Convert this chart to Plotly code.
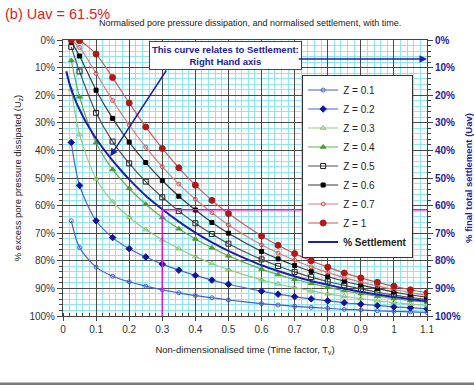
import plotly.graph_objects as go

# ---------------- data ----------------
tv = [0.025, 0.05, 0.1, 0.15, 0.2, 0.25, 0.3, 0.35, 0.4, 0.45, 0.5,
      0.6, 0.65, 0.7, 0.75, 0.8, 0.85, 0.9, 0.95, 1.0, 1.05, 1.1]

z_labels = ["Z = 0.1", "Z = 0.2", "Z = 0.3", "Z = 0.4", "Z = 0.5", "Z = 0.6", "Z = 0.7", "Z = 1"]

u_z01 = [65.5, 75.2, 82.3, 85.6, 87.6, 89.2, 90.5, 91.6, 92.6, 93.4, 94.2,
         95.5, 96.0, 96.5, 96.9, 97.2, 97.6, 97.8, 98.1, 98.3, 98.5, 98.7]
u_z02 = [37.1, 52.7, 65.5, 71.6, 75.6, 78.6, 81.2, 83.4, 85.3, 87.0, 88.5,
         91.0, 92.1, 93.0, 93.8, 94.5, 95.2, 95.7, 96.2, 96.7, 97.0, 97.4]
u_z03 = [18.0, 34.3, 50.3, 58.6, 64.2, 68.7, 72.4, 75.6, 78.5, 81.0, 83.2,
         86.9, 88.4, 89.7, 90.9, 92.0, 92.9, 93.7, 94.5, 95.1, 95.7, 96.2]
u_z04 = [7.4, 20.6, 37.2, 46.9, 53.8, 59.5, 64.3, 68.4, 72.1, 75.3, 78.2,
         83.0, 85.0, 86.7, 88.2, 89.6, 90.8, 91.9, 92.8, 93.7, 94.4, 95.0]
u_z05 = [2.5, 11.4, 26.4, 36.8, 44.7, 51.3, 57.0, 62.0, 66.4, 70.3, 73.8,
         79.5, 81.9, 84.0, 85.9, 87.5, 88.9, 90.2, 91.4, 92.4, 93.3, 94.0]
u_z06 = [0.7, 5.8, 18.2, 28.4, 37.0, 44.4, 50.9, 56.6, 61.6, 66.1, 70.0,
         76.6, 79.3, 81.7, 83.8, 85.7, 87.4, 88.8, 90.1, 91.3, 92.3, 93.2]
u_z07 = [0.2, 2.7, 12.1, 21.9, 30.8, 38.8, 45.9, 52.2, 57.7, 62.6, 67.0,
         74.2, 77.2, 79.8, 82.2, 84.2, 86.1, 87.7, 89.1, 90.4, 91.5, 92.5]
u_z10 = [0.0, 0.3, 5.1, 13.6, 22.8, 31.5, 39.3, 46.3, 52.6, 58.1, 62.9,
         71.0, 74.4, 77.4, 80.0, 82.3, 84.4, 86.2, 87.8, 89.2, 90.5, 91.6]

tv_settle = [0.01, 0.02, 0.03, 0.04, 0.05, 0.06, 0.07, 0.08, 0.1, 0.125, 0.15, 0.175,
             0.2, 0.25, 0.3, 0.35, 0.4, 0.45, 0.5, 0.55, 0.6, 0.65, 0.7, 0.75,
             0.8, 0.85, 0.9, 0.95, 1.0, 1.05, 1.1]
u_settle = [11.3, 16.0, 19.5, 22.6, 25.2, 27.6, 29.9, 31.9, 35.7, 39.9, 43.7, 47.2,
            50.5, 56.4, 61.3, 65.8, 69.8, 73.3, 76.4, 79.1, 81.6, 83.7, 85.6, 87.3,
            88.7, 90.0, 91.2, 92.2, 93.1, 93.9, 94.6]

tv_marked = 0.3
uav_marked = 61.5

x_ticks = [0, 0.1, 0.2, 0.3, 0.4, 0.5, 0.6, 0.7, 0.8, 0.9, 1, 1.1]
x_tick_text = ["0", "0.1", "0.2", "0.3", "0.4", "0.5", "0.6", "0.7", "0.8", "0.9", "1", "1.1"]

# ---------------- styles ----------------
series = [
    (u_z01, "#3f5fd0", "#3f5fd0", "circle-open", 4),
    (u_z02, "#4866d4", "#14149a", "diamond", 5),
    (u_z03, "#98cc80", "#80c068", "triangle-up-open", 5),
    (u_z04, "#6aaa50", "#4c9a30", "triangle-up", 5),
    (u_z05, "#505050", "#202020", "square-open", 5),
    (u_z06, "#3a3a3a", "#000000", "square", 4),
    (u_z07, "#dd7a7a", "#d05050", "circle-open", 4),
    (u_z10, "#c85a5a", "#b01818", "circle", 6),
]

FONT = "Liberation Sans, Arial, sans-serif"
BLUE = "#2222a0"

fig = go.Figure()
for (vals, lc, mc, sym, ms), name in zip(series, z_labels):
    fig.add_trace(go.Scatter(
        x=tv, y=vals, name=name, mode="lines+markers",
        line=dict(color=lc, width=1.2, shape="spline", smoothing=0.8),
        marker=dict(symbol=sym, size=ms, color=mc, line=dict(color=mc, width=1)),
        yaxis="y"))

fig.add_trace(go.Scatter(
    x=tv_settle, y=u_settle, mode="lines",
    name="<b>% Settlement</b>",
    line=dict(color="#1a22a8", width=2, shape="spline", smoothing=0.8),
    yaxis="y2"))

grid_minor = "#8fe6ee"
grid_major = "#4a4a4a"

fig.update_layout(
    width=474, height=385,
    margin=dict(l=63, r=47, t=40, b=69),
    paper_bgcolor="white", plot_bgcolor="white",
    font=dict(family=FONT, size=10, color="#222"),
    showlegend=True,
    legend=dict(x=0.657, y=0.875, xanchor="left", yanchor="top",
                bgcolor="white", bordercolor="#333", borderwidth=1,
                font=dict(size=10, color="#222"), tracegroupgap=0,
                itemwidth=30),
    xaxis=dict(range=[0, 1.1], tickvals=x_ticks, ticktext=x_tick_text, automargin=False,
               showgrid=True, gridcolor=grid_major, gridwidth=1,
               showline=True, linecolor="#444", linewidth=1, mirror=True,
               ticks="outside", ticklen=4, tickcolor="#444",
               tickfont=dict(size=10, color="#333"),
               minor=dict(dtick=0.02, tick0=0, showgrid=True, gridcolor=grid_minor, gridwidth=1,
                          ticks="inside", ticklen=3, tickcolor="#444"),
               zeroline=False,
               title=dict(text="Non-dimensionalised time (Time factor, T<sub>v</sub>)",
                          font=dict(size=9.5, color="#222"), standoff=12)),
    yaxis=dict(range=[100, 0], dtick=10, tick0=0, ticksuffix="%", automargin=False,
               showgrid=True, gridcolor=grid_major, gridwidth=1,
               showline=True, linecolor="#444", linewidth=1,
               ticks="outside", ticklen=5, tickcolor="#444",
               tickfont=dict(size=10, color="#333"),
               minor=dict(dtick=2, tick0=0, showgrid=True, gridcolor=grid_minor, gridwidth=1,
                          ticks="outside", ticklen=3, tickcolor="#444"),
               zeroline=False,
               title=dict(text="% excess pore pressure dissipated (U<sub>z</sub>)",
                          font=dict(size=9.5, color="#222"), standoff=6)),
    yaxis2=dict(range=[100, 0], dtick=10, tick0=0, ticksuffix="%", automargin=False,
                overlaying="y", side="right", showgrid=False,
                showline=True, linecolor="#444", linewidth=1,
                ticks="outside", ticklen=5, tickcolor="#444",
                tickfont=dict(size=10, color=BLUE, weight="bold"),
                minor=dict(dtick=2, ticks="outside", ticklen=3, tickcolor="#444"),
                zeroline=False,
                title=dict(text="% final total settlement (Uav)",
                           font=dict(size=9.5, color=BLUE, weight="bold"), standoff=6)),
)

# magenta guide lines at the marked time factor / settlement
fig.add_shape(type="line", xref="x", yref="y", x0=tv_marked, x1=tv_marked, y0=100, y1=uav_marked,
              line=dict(color="#e010e0", width=1.5), layer="above")
fig.add_shape(type="line", xref="x", yref="y", x0=tv_marked, x1=1.1, y0=uav_marked, y1=uav_marked,
              line=dict(color="#e010e0", width=1.5), layer="above")

# grey strip at bottom of the picture
fig.add_shape(type="rect", xref="paper", yref="paper", x0=-0.2, x1=1.2, y0=-0.2514, y1=-0.2405,
              line=dict(width=0), fillcolor="#7a7a7a", layer="above")

# headings
fig.add_annotation(xref="paper", yref="paper", x=-0.166, y=1.094, xanchor="left", yanchor="middle",
                   text="(b) Uav = 61.5%", showarrow=False,
                   font=dict(size=14.5, color="#e02020", family=FONT))
fig.add_annotation(xref="paper", yref="paper", x=0.094, y=1.060, xanchor="left", yanchor="middle",
                   text="Normalised pore pressure dissipation, and normalised settlement, with time.",
                   showarrow=False, font=dict(size=9, color="#222", family=FONT))

# callout box and its arrows
box_x, box_y = 0.49, 5.6
fig.add_annotation(x=box_x, y=box_y, xref="x", yref="y",
                   text="<b>This curve relates to Settlement:<br>Right Hand axis</b>",
                   showarrow=False, font=dict(size=9.5, color=BLUE, family=FONT),
                   bgcolor="white", bordercolor="#3a3ab0", borderwidth=1, borderpad=2)
fig.add_annotation(x=1.1, y=6.9, ax=0.708, ay=6.9, xref="x", yref="y", axref="x", ayref="y",
                   text="", showarrow=True, arrowhead=2, arrowsize=1, arrowwidth=1.5,
                   arrowcolor="#1a22a8")
fig.add_annotation(x=0.143, y=42.1, ax=0.315, ay=10.5, xref="x", yref="y", axref="x", ayref="y",
                   text="", showarrow=True, arrowhead=2, arrowsize=1, arrowwidth=1.5,
                   arrowcolor="#1a22a8")

fig.write_html("out.html", config={"displayModeBar": False},
               post_script="document.body.style.margin='0px';")
